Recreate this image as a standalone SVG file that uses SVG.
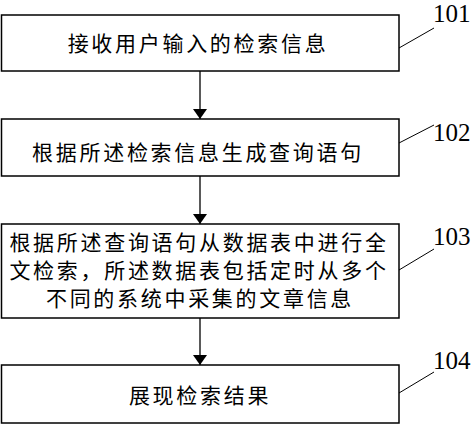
<svg xmlns="http://www.w3.org/2000/svg" width="474" height="426" viewBox="0 0 474 426">
<defs>
<style>
.box{fill:#fff;stroke:#000;stroke-width:1.5}
.t{font-family:"Noto Sans CJK SC","Noto Sans",sans-serif;font-size:21px;letter-spacing:2.7px;text-anchor:middle;fill:#000}
.n{font-family:"Liberation Serif",serif;font-size:25px;fill:#000}
.lead{stroke:#000;stroke-width:1;fill:none}
.edge{stroke:#000;stroke-width:1.3;fill:none}
</style>
<marker id="ah" viewBox="0 0 10 14" refX="10" refY="7" markerWidth="10" markerHeight="14" markerUnits="userSpaceOnUse" orient="auto">
<path d="M0,0 L10,7 L0,14 Z" fill="#000"/>
</marker>
</defs>
<rect width="474" height="426" fill="#fff"/>
<g id="n101">
<rect class="box" x="1.5" y="15" width="397.5" height="56"/>
<text class="t" x="198" y="51">接收用户输入的检索信息</text>
<line class="lead" x1="399" y1="48" x2="434" y2="28"/>
<text class="n" x="433" y="22">101</text>
</g>
<g id="n102">
<rect class="box" x="1.5" y="119" width="397.5" height="57"/>
<text class="t" x="198" y="160">根据所述检索信息生成查询语句</text>
<line class="lead" x1="399" y1="143" x2="434" y2="125"/>
<text class="n" x="433" y="141">102</text>
</g>
<g id="n103">
<rect class="box" x="1.5" y="224" width="397.5" height="94"/>
<text class="t" x="199" y="250">根据所述查询语句从数据表中进行全</text>
<text class="t" x="199" y="278">文检索，所述数据表包括定时从多个</text>
<text class="t" x="200" y="306">不同的系统中采集的文章信息</text>
<line class="lead" x1="399" y1="270" x2="434" y2="249"/>
<text class="n" x="433" y="245">103</text>
</g>
<g id="n104">
<rect class="box" x="1.5" y="365" width="397.5" height="58"/>
<text class="t" x="200" y="403">展现检索结果</text>
<line class="lead" x1="399" y1="393" x2="434" y2="372"/>
<text class="n" x="433" y="369">104</text>
</g>
<g id="connectors">
<line class="edge" x1="200" y1="71" x2="200" y2="119" marker-end="url(#ah)"/>
<line class="edge" x1="200" y1="176" x2="200" y2="224" marker-end="url(#ah)"/>
<line class="edge" x1="200" y1="318" x2="200" y2="365" marker-end="url(#ah)"/>
</g>
</svg>
